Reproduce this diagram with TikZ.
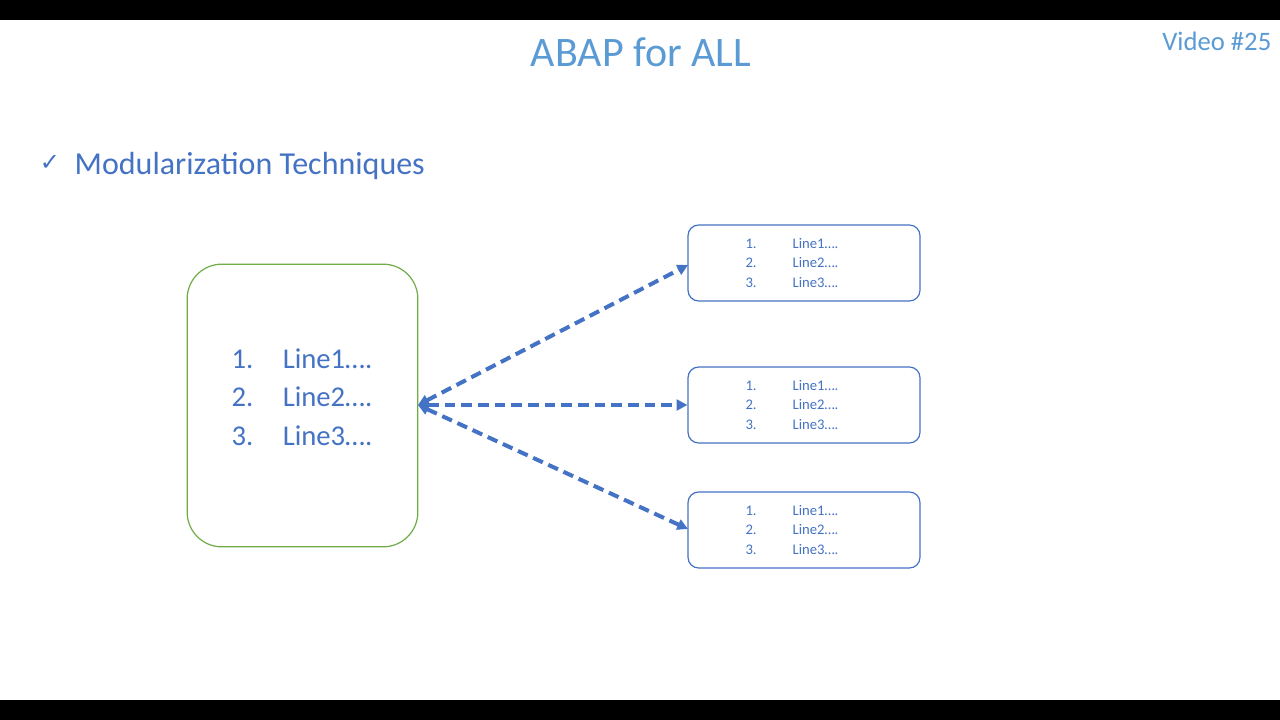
\documentclass[tikz,border=0pt]{standalone}
\usepackage{fontspec}
\setmainfont{Carlito}
\newfontfamily\symfont{DejaVu Sans}
\usetikzlibrary{arrows.meta}
\definecolor{tblue}{HTML}{4472C4}
\definecolor{tgreen}{HTML}{70AD47}
\definecolor{ttitle}{HTML}{5B9BD5}
\begin{document}
\begin{tikzpicture}[x=0.75pt,y=-0.75pt,
  small/.style={draw=tblue, line width=0.9pt, rounded corners=8pt, minimum width=174pt, minimum height=57pt, inner sep=0pt},
  conn/.style={draw=tblue, line width=3pt, dash pattern=on 8pt off 4.5pt, {Triangle[length=8pt,width=8pt]}-{Triangle[length=8pt,width=8pt]}},
  txt/.style={text=tblue}]
\fill[white] (0,0) rectangle (1280,720);
\fill[black] (0,0) rectangle (1280,20);
\fill[black] (0,700) rectangle (1280,720);
\node[text=ttitle, font=\fontsize{31.5}{34}\selectfont] (title) at (641,52) {ABAP for ALL};
\node[text=ttitle, font=\fontsize{20}{22}\selectfont, anchor=east] (video) at (1276,41) {Video \#25};
\node[txt, font=\symfont\bfseries\fontsize{18}{20}\selectfont] (check) at (50,163) {✓};
\node[txt, font=\fontsize{24}{26}\selectfont, anchor=west] (mod) at (70,166) {Modularization Techniques};
\node[draw=tgreen, line width=0.9pt, rounded corners=26pt, minimum width=173pt, minimum height=212pt, inner sep=0pt] (big) at (302.5,405.5) {};
\node[txt, font=\fontsize{21.5}{29}\selectfont, align=left] (bigtxt) at (302,397) {1.\hspace{22pt}Line1….\\2.\hspace{22pt}Line2….\\3.\hspace{22pt}Line3….};
\foreach \n/\y in {a/263, b/405, c/530}{
  \node[small] (\n) at (804,\y) {};
  \node[txt, font=\fontsize{11}{14.5}\selectfont, align=left] (\n t) at (792,\y) {1.\hspace{27pt}Line1….\\2.\hspace{27pt}Line2….\\3.\hspace{27pt}Line3….};
}
\coordinate (s) at (418,405);
\coordinate (ea) at (688,265);
\coordinate (ec) at (688,529);
\draw[conn] (s) -- (ea);
\draw[conn] (s) -- (b.west);
\draw[conn] (s) -- (ec);
\end{tikzpicture}
\end{document}
